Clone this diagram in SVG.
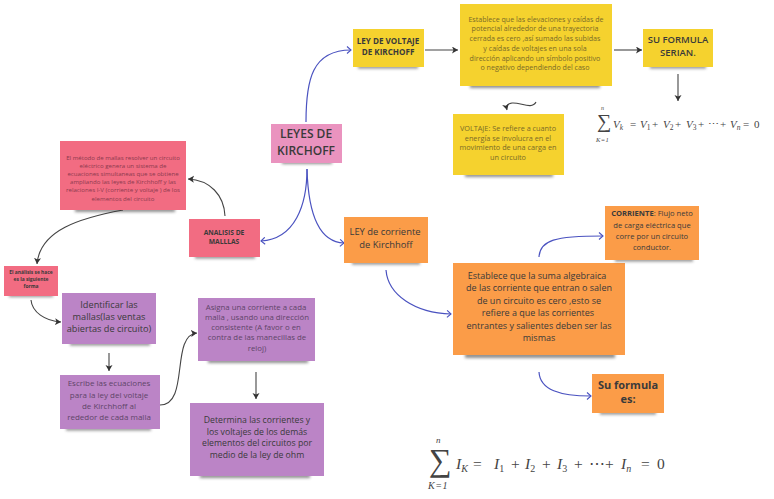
<svg xmlns="http://www.w3.org/2000/svg" width="774" height="499" viewBox="0 0 774 499">
<style>
text{font-family:"Open Sans","Noto Sans",sans-serif;text-anchor:middle;fill:#3a3a3a}
.y{fill:#f5d22e}.r{fill:#f26c82}.p{fill:#bb84c6}.o{fill:#fb9c48}.k{fill:#ea93bf}
.sh{fill:#333;opacity:.55;filter:url(#b)}
.bl{fill:none;stroke:#4a52c0;stroke-width:1.2;marker-end:url(#ob)}
.dk{fill:none;stroke:#444;stroke-width:1.1;marker-end:url(#ad)}
text.f{font-family:"Liberation Serif",serif;font-style:italic;text-anchor:start;fill:#444}
text.n{font-family:"Liberation Serif",serif;text-anchor:start;fill:#444}
.ty text{fill:#7a6a28}.tr text{fill:#8c3a4e}.tp text{fill:#5f4468}
</style>
<defs>
<filter id="b" x="-20%" y="-100%" width="140%" height="300%"><feGaussianBlur stdDeviation="1.6"/></filter>
<marker id="ob" markerWidth="8" markerHeight="8" refX="6" refY="4" orient="auto" markerUnits="userSpaceOnUse"><path d="M2,0.5 L6,4 L2,7.5" fill="none" stroke="#4a52c0" stroke-width="1.1"/></marker>
<marker id="ad" markerWidth="8" markerHeight="8" refX="6" refY="3.5" orient="auto" markerUnits="userSpaceOnUse"><path d="M0,0 L6,3.5 L0,7 L1.5,3.5Z" fill="#333"/></marker>
</defs>
<g id="connectors">
<path class="bl" d="M306,122C306,80 312,50 351,50"/>
<path class="bl" d="M307,169C307,205 295,239 261,241"/>
<path class="bl" d="M307,169C308,205 315,242 344,243"/>
<path class="dk" d="M225,216C224,195 210,180 188,179"/>
<path class="dk" d="M123,210C80,218 40,230 37,264"/>
<path class="dk" d="M31,300C32,312 45,321 61,322"/>
<path class="dk" d="M109,353V371"/>
<path class="dk" d="M160,405C190,405 170,335 197,333"/>
<path class="dk" d="M256,372V399"/>
<path class="bl" d="M386,270C388,295 415,313 451,314"/>
<path class="bl" d="M539,257C540,240 555,236 603,236"/>
<path class="bl" d="M539,372C540,390 560,396 591,396"/>
<path class="dk" d="M425,50H458"/>
<path class="dk" d="M614,50H642"/>
<path class="dk" d="M678,74V101"/>
<path class="dk" d="M536,102C532,110 520,102 512,103C507,104 506,106 507,110"/>
</g>
<g id="node-leyes"><rect class="sh" x="282" y="160" width="50" height="4"/><rect class="k" x="271" y="124" width="71" height="39"/><text x="306" y="138" font-size="12" font-weight="600">LEYES DE</text><text x="306" y="155" font-size="12" font-weight="600">KIRCHOFF</text></g>
<g id="node-ley-voltaje"><rect class="sh" x="358" y="65" width="60" height="3.5"/><rect class="y" x="353" y="29" width="71" height="38"/><g font-size="8.1" font-weight="700"><text x="388" y="44">LEY DE VOLTAJE</text><text x="388" y="55">DE KIRCHOFF</text></g></g>
<g id="node-voltaje-def" class="ty"><rect class="sh" x="470" y="83" width="130" height="5"/><rect class="y" x="460" y="4" width="152" height="82"/><g font-size="7.1"><text x="536" y="22">Establece que las elevaciones y caídas de</text><text x="535" y="31">potencial alrededor de una trayectoria</text><text x="535" y="41">cerrada es cero ,así sumado las subidas</text><text x="535" y="51">y caídas de voltajes  en una sola</text><text x="535" y="61">dirección aplicando un símbolo positivo</text><text x="535" y="70">o negativo dependiendo del caso</text></g></g>
<g id="node-su-formula"><rect class="sh" x="650" y="65" width="56" height="3.5"/><rect class="y" x="643" y="29" width="70" height="38"/><g font-size="9.5" font-weight="600"><text x="678" y="43">SU FORMULA</text><text x="678" y="56">SERIAN.</text></g></g>
<g id="node-voltaje" class="ty"><rect class="sh" x="465" y="173" width="88" height="4"/><rect class="y" x="453" y="114" width="111" height="61"/><g font-size="7.3"><text x="508" y="131">VOLTAJE: Se refiere a cuanto</text><text x="508" y="141">energía se involucra en el</text><text x="508" y="150">movimiento  de una carga en</text><text x="508" y="160">un circuito</text></g></g>
<g id="formula-v">
<text class="n" x="597" y="128" font-size="20">∑</text>
<text class="f" x="601" y="110" font-size="6">n</text>
<text class="f" x="596" y="142" font-size="6.5" letter-spacing=".4">K=1</text>
<text class="f" y="128" font-size="11"><tspan x="613">V</tspan><tspan font-size="7.5" dy="2">k</tspan><tspan x="630" dy="-2" font-style="normal">=</tspan><tspan x="640">V</tspan><tspan font-size="7.5" dy="2" font-style="normal">1</tspan><tspan x="652" dy="-2" font-style="normal">+</tspan><tspan x="663">V</tspan><tspan font-size="7.5" dy="2" font-style="normal">2</tspan><tspan x="675" dy="-2" font-style="normal">+</tspan><tspan x="686">V</tspan><tspan font-size="7.5" dy="2" font-style="normal">3</tspan><tspan x="698" dy="-2" font-style="normal">+</tspan><tspan x="708" font-style="normal">⋯</tspan><tspan x="720" font-style="normal">+</tspan><tspan x="730">V</tspan><tspan font-size="7.5" dy="2">n</tspan><tspan x="743" dy="-2" font-style="normal">=</tspan><tspan x="754" font-style="normal">0</tspan></text>
</g>
<g id="node-analisis"><rect class="sh" x="195" y="255" width="60" height="3.5"/><rect class="r" x="189" y="219" width="71" height="38"/><g font-size="6.7" font-weight="700"><text x="224" y="235">ANALISIS DE</text><text x="224" y="244">MALLLAS</text></g></g>
<g id="node-metodo" class="tr"><rect class="sh" x="75" y="208" width="100" height="4"/><rect class="r" x="60" y="141" width="126" height="69"/><g font-size="6.1"><text x="123" y="160">El método de mallas resolver un circuito</text><text x="123" y="168">eléctrico genera un sistema  de</text><text x="123" y="176">ecuaciones  simultaneas que  se obtiene</text><text x="123" y="184">ampliando  las leyes de Kirchhoff  y las</text><text x="123" y="192">relaciones I-V (corriente y voltaje )  de los</text><text x="123" y="201">elementos del circuito</text></g></g>
<g id="node-analisis-forma"><rect class="sh" x="9" y="294" width="44" height="3"/><rect class="r" x="4" y="266" width="54" height="30"/><g font-size="4.9" font-weight="700"><text x="31" y="274">El análisis se hace</text><text x="31" y="281">es la siguiente</text><text x="31" y="288">forma</text></g></g>
<g id="node-identificar"><rect class="sh" x="70" y="342" width="80" height="3.5"/><rect class="p" x="62" y="293" width="94" height="51"/><g font-size="9.2"><text x="109" y="308">Identificar las</text><text x="109" y="320">mallas(las ventas</text><text x="109" y="332">abiertas de circuito)</text></g></g>
<g id="node-escribe" class="tp"><rect class="sh" x="66" y="427" width="85" height="3.5"/><rect class="p" x="60" y="375" width="100" height="54"/><g font-size="8"><text x="109" y="386">Escribe las ecuaciones</text><text x="109" y="398">para la ley  del voltaje</text><text x="109" y="409">de  Kirchhoff al</text><text x="109" y="420">rededor  de cada malla</text></g></g>
<g id="node-asigna" class="tp"><rect class="sh" x="208" y="359" width="100" height="4"/><rect class="p" x="198" y="298" width="117" height="63"/><g font-size="7.8"><text x="256" y="310">Asigna una corriente a cada</text><text x="257" y="320">malla  , usando una dirección</text><text x="256" y="330">consistente (A favor o en</text><text x="257" y="340">contra de las manecillas de</text><text x="257" y="351">reloj)</text></g></g>
<g id="node-determina"><rect class="sh" x="200" y="474" width="110" height="4"/><rect class="p" x="190" y="403" width="134" height="73"/><g font-size="8.7"><text x="257" y="423">Determina las corrientes  y</text><text x="257" y="435">los voltajes de los demás</text><text x="257" y="446">elementos del circuitos  por</text><text x="257" y="458">medio de la ley de ohm</text></g></g>
<g id="node-ley-corriente"><rect class="sh" x="352" y="261" width="68" height="3.5"/><rect class="o" x="344" y="217" width="84" height="46"/><g font-size="9.4"><text x="385" y="235">LEY  de corriente</text><text x="386" y="248">de Kirchhoff</text></g></g>
<g id="node-establece"><rect class="sh" x="465" y="353" width="150" height="5"/><rect class="o" x="453" y="263" width="172" height="92"/><g font-size="9"><text x="537" y="279">Establece que la suma algebraica</text><text x="539" y="291">de las corriente  que entran o salen</text><text x="539" y="304">de un circuito es cero ,esto se</text><text x="538" y="316">refiere a que las corrientes</text><text x="539" y="329">entrantes y salientes deben ser las</text><text x="539" y="341">mismas</text></g></g>
<g id="node-corriente"><rect class="sh" x="615" y="258" width="78" height="3.5"/><rect class="o" x="605" y="206" width="94" height="54"/><g font-size="7.6"><text x="652" y="216"><tspan font-weight="700">CORRIENTE</tspan>: Flujo neto</text><text x="652" y="228">de carga eléctrica que</text><text x="652" y="239">corre por un circuito</text><text x="652" y="250">conductor.</text></g></g>
<g id="node-su-formula-es"><rect class="sh" x="600" y="411" width="56" height="3.5"/><rect class="o" x="592" y="374" width="72" height="39"/><g font-size="11" font-weight="700"><text x="628" y="389">Su formula</text><text x="628" y="403">es:</text></g></g>
<g id="formula-i">
<text class="n" x="429" y="471" font-size="32">∑</text>
<text class="f" x="436" y="443" font-size="9">n</text>
<text class="f" x="428" y="489" font-size="10" letter-spacing=".6">K=1</text>
<text class="f" y="469" font-size="15.5"><tspan x="456">I</tspan><tspan font-size="10" dy="3">K</tspan><tspan x="473" dy="-3" font-style="normal">=</tspan><tspan x="494">I</tspan><tspan font-size="10" dy="3" font-style="normal">1</tspan><tspan x="511" dy="-3" font-style="normal">+</tspan><tspan x="525">I</tspan><tspan font-size="10" dy="3" font-style="normal">2</tspan><tspan x="542" dy="-3" font-style="normal">+</tspan><tspan x="557">I</tspan><tspan font-size="10" dy="3" font-style="normal">3</tspan><tspan x="574" dy="-3" font-style="normal">+</tspan><tspan x="589" font-style="normal">⋯</tspan><tspan x="605" font-style="normal">+</tspan><tspan x="621">I</tspan><tspan font-size="10" dy="3">n</tspan><tspan x="641" dy="-3" font-style="normal">=</tspan><tspan x="657" font-style="normal">0</tspan></text>
</g>
</svg>
